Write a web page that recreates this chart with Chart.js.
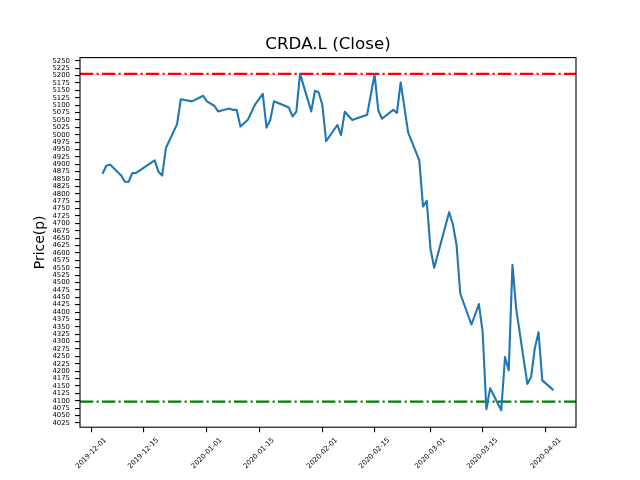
<!DOCTYPE html>
<html>
<head>
<meta charset="utf-8">
<script src="https://cdn.jsdelivr.net/npm/chart.js@4.4.0/dist/chart.umd.min.js"></script>
<style>
  html, body { margin: 0; padding: 0; background: #fff; }
  #wrap { width: 640px; height: 480px; }
</style>
</head>
<body>
<div id="wrap"><canvas id="priceChart" width="640" height="480"></canvas></div>
<script>
// Close prices
const dates = [
  "2019-12-04", "2019-12-05", "2019-12-06", "2019-12-09", "2019-12-10", "2019-12-11",
  "2019-12-12", "2019-12-13", "2019-12-18", "2019-12-19", "2019-12-20", "2019-12-21",
  "2019-12-24", "2019-12-25", "2019-12-28", "2019-12-31", "2020-01-01", "2020-01-03",
  "2020-01-04", "2020-01-07", "2020-01-08", "2020-01-09", "2020-01-10", "2020-01-12",
  "2020-01-14", "2020-01-16", "2020-01-17", "2020-01-18", "2020-01-19", "2020-01-23",
  "2020-01-24", "2020-01-25", "2020-01-26", "2020-01-29", "2020-01-30", "2020-01-31",
  "2020-02-01", "2020-02-02", "2020-02-05", "2020-02-06", "2020-02-07", "2020-02-09",
  "2020-02-13", "2020-02-15", "2020-02-16", "2020-02-17", "2020-02-20", "2020-02-21",
  "2020-02-22", "2020-02-24", "2020-02-27", "2020-02-28", "2020-02-29", "2020-03-01",
  "2020-03-02", "2020-03-06", "2020-03-07", "2020-03-08", "2020-03-09", "2020-03-12",
  "2020-03-14", "2020-03-15", "2020-03-16", "2020-03-17", "2020-03-20", "2020-03-21",
  "2020-03-22", "2020-03-23", "2020-03-24", "2020-03-27", "2020-03-28", "2020-03-29",
  "2020-03-30", "2020-03-31", "2020-04-03"
];
const closes = [
  4868, 4895, 4899, 4862, 4841, 4841,
  4870, 4871, 4913, 4875, 4862, 4955,
  5036, 5120, 5113, 5132, 5113, 5098,
  5079, 5089, 5084, 5084, 5028, 5051,
  5104, 5138, 5024, 5050, 5113, 5092,
  5062, 5078, 5206, 5079, 5149, 5143,
  5100, 4978, 5033, 4999, 5078, 5050,
  5068, 5204, 5082, 5054, 5084, 5074,
  5177, 5008, 4913, 4757, 4776, 4614,
  4550, 4738, 4698, 4627, 4462, 4358,
  4427, 4332, 4071, 4142, 4068, 4248,
  4203, 4560, 4411, 4157, 4180, 4278,
  4332, 4169, 4136
];
const resistance = 5206;
const support = 4097;
const xTickLabels = [
  "2019-12-01", "2019-12-15", "2020-01-01", "2020-01-15", "2020-02-01",
  "2020-02-15", "2020-03-01", "2020-03-15", "2020-04-01"
];
const yTickFirst = 4025;
const yTickLast = 5250;
const yTickStep = 25;

const DAY = 86400000;
const toDay = s => Date.parse(s) / DAY;
const fmtDay = d => new Date(Math.round(d) * DAY).toISOString().slice(0, 10);

const xs = dates.map(toDay);
const xPad = (xs[xs.length - 1] - xs[0]) * 0.05;
const xMin = xs[0] - xPad;
const xMax = xs[xs.length - 1] + xPad;

const yTicks = [];
for (let v = yTickFirst; v <= yTickLast; v += yTickStep) yTicks.push({ value: v });

const font = "DejaVu Sans";
const tickFontSize = 6.9;

// title, y label and the box around the axes
const decorations = {
  id: "decorations",
  afterDraw(chart) {
    const { ctx, chartArea: a } = chart;
    ctx.save();
    ctx.strokeStyle = "#000";
    ctx.lineWidth = 1.1;
    ctx.strokeRect(a.left, a.top, a.right - a.left, a.bottom - a.top);

    ctx.fillStyle = "#000";
    ctx.font = `16.7px "${font}"`;
    ctx.textAlign = "center";
    ctx.textBaseline = "alphabetic";
    ctx.fillText("CRDA.L (Close)", (a.left + a.right) / 2, a.top - 8.3);

    ctx.translate(47.5, (a.top + a.bottom) / 2);
    ctx.rotate(-Math.PI / 2);
    ctx.font = `13.9px "${font}"`;
    ctx.textBaseline = "bottom";
    ctx.fillText("Price(p)", 0, 0);
    ctx.restore();
  }
};

new Chart(document.getElementById("priceChart"), {
  type: "line",
  data: {
    datasets: [
      {
        data: xs.map((x, i) => ({ x: x, y: closes[i] })),
        borderColor: "#1f77b4",
        borderWidth: 2.1,
        borderJoinStyle: "round",
        pointRadius: 0,
        tension: 0
      },
      {
        data: [{ x: xMin, y: resistance }, { x: xMax, y: resistance }],
        borderColor: "#ff0000",
        borderWidth: 2.1,
        borderDash: [13.3, 3.3, 2.1, 3.3],
        pointRadius: 0
      },
      {
        data: [{ x: xMin, y: support }, { x: xMax, y: support }],
        borderColor: "#008000",
        borderWidth: 2.1,
        borderDash: [13.3, 3.3, 2.1, 3.3],
        pointRadius: 0
      }
    ]
  },
  options: {
    responsive: false,
    animation: false,
    devicePixelRatio: 1,
    layout: { padding: { left: 0, right: 64, top: 57.6, bottom: 0 } },
    plugins: {
      legend: { display: false },
      title: { display: false },
      tooltip: { enabled: false }
    },
    scales: {
      x: {
        type: "linear",
        min: xMin,
        max: xMax,
        afterFit: s => { s.height = 52.8; },
        afterBuildTicks: s => { s.ticks = xTickLabels.map(l => ({ value: toDay(l) })); },
        border: { display: false },
        grid: { drawOnChartArea: false, tickLength: 5, color: "#000", lineWidth: 1.1 },
        ticks: {
          autoSkip: false,
          minRotation: 45,
          maxRotation: 45,
          padding: 4,
          labelOffset: 14,
          color: "#000",
          font: { family: font, size: tickFontSize },
          callback: v => fmtDay(v)
        }
      },
      y: {
        min: 4010.5,
        max: 5261,
        afterFit: s => { s.width = 80; },
        afterBuildTicks: s => { s.ticks = yTicks.slice(); },
        border: { display: false },
        grid: { drawOnChartArea: false, tickLength: 5, color: "#000", lineWidth: 1.1 },
        ticks: {
          autoSkip: false,
          padding: 5,
          color: "#000",
          font: { family: font, size: tickFontSize },
          callback: v => String(v)
        }
      }
    }
  },
  plugins: [decorations]
});
</script>
</body>
</html>
